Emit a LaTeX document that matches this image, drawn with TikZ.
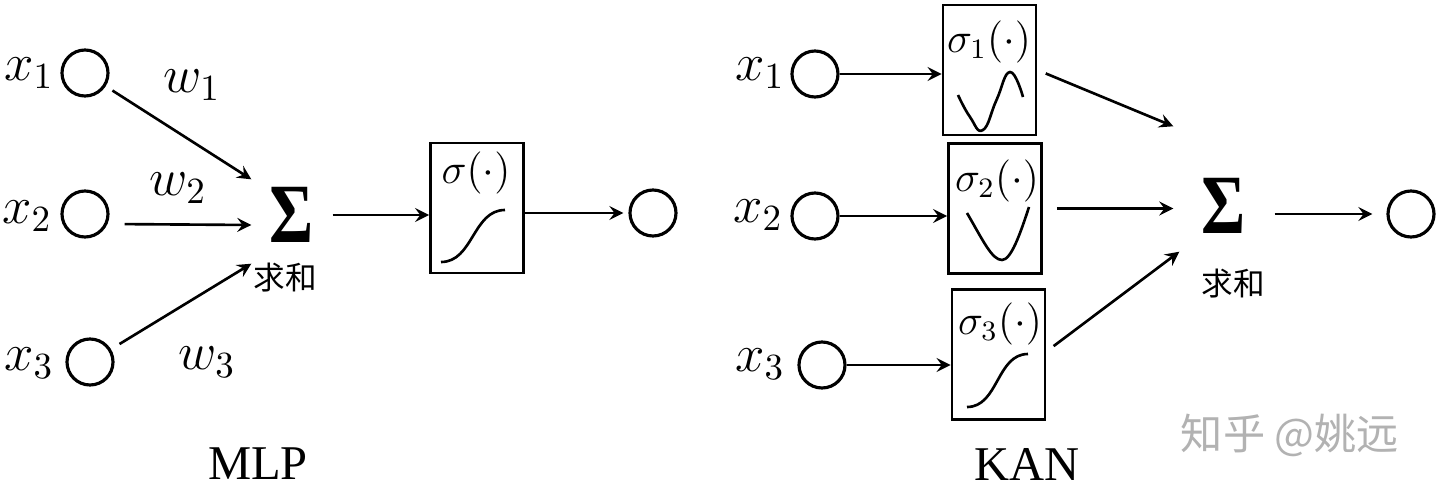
\RequirePackage{fix-cm}
\documentclass[tikz,border=0pt]{standalone}
\usepackage[no-math]{fontspec}
\setmainfont{Liberation Serif}
\newfontfamily\cjk{Noto Sans CJK SC}
\usepackage{tikz}
\usetikzlibrary{shapes,arrows,positioning}

\begin{document}
\begin{tikzpicture}[
          every node/.style={font=\fontsize{15}{18}\selectfont},
          neuron/.style={circle, draw, line width=0.9pt, minimum size=0.46cm, inner sep=0pt},
          actbox/.style={rectangle, draw, line width=0.8pt, minimum width=0.93cm, minimum height=1.30cm},
          sumnode/.style={rectangle, inner sep=0pt, font=\fontsize{24}{28}\selectfont\bfseries},
          actlabel/.style={font=\fontsize{12}{14}\selectfont},
          actcurve/.style={line width=0.75pt},
          cnlabel/.style={font=\cjk\fontsize{9}{11}\selectfont},
          netname/.style={font=\fontsize{13.8}{16}\selectfont},
          arrow/.style={->, >=stealth, line width=0.75pt}
        ]
          \useasboundingbox (0,0) rectangle (14.4,4.93);

          % MLP inputs
          \node[neuron] (inA1) at (0.85,4.20) {};
          \node[neuron] (inA2) at (0.85,2.79) {};
          \node[neuron] (inA3) at (0.90,1.31) {};
          \node (xA1) at (0.29,4.20) {$x_1$};
          \node (xA2) at (0.27,2.77) {$x_2$};
          \node (xA3) at (0.29,1.30) {$x_3$};

          % MLP sum and activation
          \node[sumnode, minimum width=0.8cm, minimum height=0.7cm] (sumA) at (2.92,2.78) {\scalebox{0.8}[1]{Σ}};
          \node[cnlabel] (cnA) at (2.85,2.15) {求和};
          \node[actbox] (boxA) at (4.77,2.85) {};
          \node[actlabel] (sigA) at (4.76,3.20) {$\sigma(\cdot)$};
          \draw[actcurve] ([shift={(-0.36,-0.54)}]boxA.center) to[out=0,in=180] ([shift={(0.28,-0.02)}]boxA.center);
          \node[neuron] (outA) at (6.53,2.80) {};

          \draw[arrow, shorten <=0.08cm] (inA1) -- (sumA.north west);
          \draw[arrow, shorten <=0.15cm] ([yshift=-0.1cm]inA2.east) -- ([yshift=-0.1cm]sumA.west);
          \draw[arrow, shorten <=0.1cm] (inA3) -- ([yshift=-0.13cm]sumA.south west);
          \draw[arrow] (sumA.east) -- (sumA.east -| boxA.west);
          \draw[arrow, shorten >=0.05cm] (boxA.east |- outA) -- (outA.west);

          \node (wA1) at (1.92,4.08) {$w_1$};
          \node (wA2) at (1.78,3.05) {$w_2$};
          \node (wA3) at (2.07,1.31) {$w_3$};

          % KAN inputs
          \node[neuron] (inB1) at (8.15,4.19) {};
          \node[neuron] (inB2) at (8.15,2.77) {};
          \node[neuron] (inB3) at (8.22,1.28) {};
          \node (xB1) at (7.60,4.20) {$x_1$};
          \node (xB2) at (7.58,2.78) {$x_2$};
          \node (xB3) at (7.60,1.29) {$x_3$};

          % KAN learnable activations
          \node[actbox] (boxB1) at (9.895,4.23) {};
          \node[actbox] (boxB2) at (9.95,2.845) {};
          \node[actbox] (boxB3) at (9.985,1.385) {};
          \node[actlabel] (sigB1) at (9.89,4.51) {$\sigma_1(\cdot)$};
          \node[actlabel] (sigB2) at (9.97,3.12) {$\sigma_2(\cdot)$};
          \node[actlabel] (sigB3) at (10.00,1.69) {$\sigma_3(\cdot)$};
          \draw[actcurve, shift={(boxB1.center)}] plot[smooth, tension=0.8] coordinates {(-0.315,-0.25) (-0.195,-0.47) (-0.065,-0.60) (0.07,-0.30) (0.205,-0.02) (0.335,-0.27)};
          \draw[actcurve] ([shift={(-0.28,-0.045)}]boxB2.center) .. controls ([shift={(-0.12,-0.32)}]boxB2.center) and ([shift={(-0.03,-0.515)}]boxB2.center) .. ([shift={(0.07,-0.515)}]boxB2.center) .. controls ([shift={(0.16,-0.515)}]boxB2.center) and ([shift={(0.25,-0.26)}]boxB2.center) .. ([shift={(0.34,0.015)}]boxB2.center);
          \draw[actcurve] ([shift={(-0.315,-0.525)}]boxB3.center) to[out=0,in=180] ([shift={(0.295,0.005)}]boxB3.center);

          \draw[arrow] (inB1.east) -- (inB1.east -| boxB1.west);
          \draw[arrow] (inB2.east) -- (inB2.east -| boxB2.west);
          \draw[arrow] (inB3.east) -- (inB3.east -| boxB3.west);

          % KAN sum
          \node[sumnode, minimum width=1.0cm, minimum height=0.9cm] (sumB) at (12.24,2.87) {\scalebox{0.8}[1]{Σ}};
          \node[cnlabel] (cnB) at (12.33,2.09) {求和};
          \node[neuron] (outB) at (14.11,2.79) {};

          \draw[arrow, shorten <=0.09cm] (boxB1.east) -- ([yshift=0.34cm]sumB.north west);
          \draw[arrow, shorten <=0.14cm] (boxB2.east) -- (boxB2.east -| sumB.west);
          \draw[arrow, shorten <=0.09cm] ([yshift=0.03cm]boxB3.east) -- ([xshift=0.06cm]sumB.south west);
          \draw[arrow, shorten >=0.14cm] (sumB.east |- outB) -- (outB.west);

          % titles
          \node[netname] (mlp) at (2.58,0.29) {MLP};
          \node[netname] (kan) at (10.27,0.29) {KAN};
          \node[font=\cjk\fontsize{12}{14}\selectfont, text=black!30] (mark) at (12.9,0.58) {知乎 @姚远};

        \end{tikzpicture}
\end{document}
